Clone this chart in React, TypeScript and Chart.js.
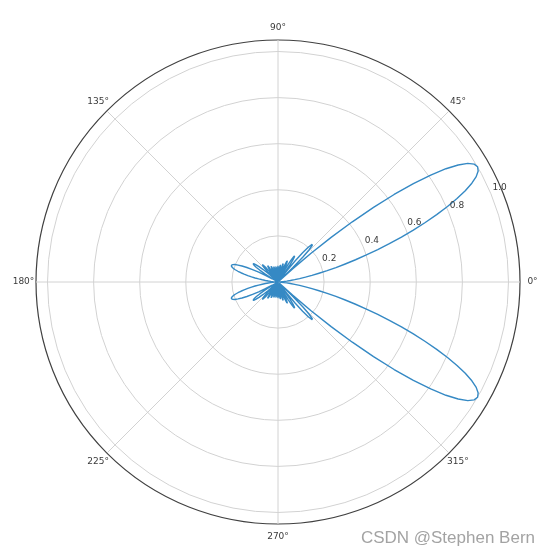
import React, { useEffect, useRef } from 'react';
import { Chart, registerables } from 'chart.js';

Chart.register(...registerables);

// Angular sampling of the pattern (degrees, counter-clockwise from east)
const THETA_STEP_DEG = 1;

// |array factor| read from the upper half of the polar plot, theta = 0°..180° (1° apart).
// The lower half of the plot is the mirror image of this half.
const GAIN_UPPER_HALF = [
  0.005, 0.004, 0.000, 0.006, 0.014, 0.025, 0.038, 0.054, 0.073, 0.095,
  0.121, 0.150, 0.182, 0.219, 0.259, 0.302, 0.350, 0.401, 0.455, 0.511,
  0.570, 0.629, 0.689, 0.748, 0.805, 0.857, 0.904, 0.944, 0.974, 0.993,
  1.000, 0.993, 0.971, 0.932, 0.879, 0.809, 0.726, 0.631, 0.526, 0.415,
  0.301, 0.190, 0.085, 0.010, 0.090, 0.153, 0.196, 0.218, 0.219, 0.200,
  0.166, 0.119, 0.065, 0.010, 0.042, 0.086, 0.117, 0.132, 0.132, 0.116,
  0.088, 0.051, 0.009, 0.031, 0.065, 0.089, 0.099, 0.096, 0.080, 0.053,
  0.020, 0.015, 0.046, 0.069, 0.081, 0.081, 0.068, 0.045, 0.016, 0.015,
  0.043, 0.063, 0.073, 0.070, 0.056, 0.034, 0.006, 0.022, 0.046, 0.063,
  0.068, 0.063, 0.047, 0.023, 0.004, 0.030, 0.051, 0.064, 0.066, 0.058,
  0.040, 0.015, 0.012, 0.037, 0.056, 0.067, 0.067, 0.057, 0.038, 0.014,
  0.013, 0.039, 0.059, 0.071, 0.073, 0.064, 0.047, 0.024, 0.004, 0.031,
  0.055, 0.073, 0.082, 0.081, 0.070, 0.051, 0.026, 0.003, 0.032, 0.058,
  0.080, 0.094, 0.100, 0.096, 0.083, 0.063, 0.037, 0.007, 0.025, 0.056,
  0.084, 0.106, 0.123, 0.132, 0.133, 0.127, 0.113, 0.093, 0.067, 0.037,
  0.005, 0.029, 0.062, 0.094, 0.123, 0.149, 0.171, 0.188, 0.202, 0.210,
  0.214, 0.214, 0.210, 0.203, 0.193, 0.180, 0.166, 0.151, 0.134, 0.117,
  0.101, 0.085, 0.069, 0.055, 0.042, 0.031, 0.022, 0.014, 0.009, 0.006,
  0.005,
];

const ANGLE_TICK_DEGREES = [0, 45, 90, 135, 180, 225, 270, 315];
const ANGLE_TICK_LABELS = ['0°', '45°', '90°', '135°', '180°', '225°', '270°', '315°'];
const RADIAL_TICKS = [0.2, 0.4, 0.6, 0.8, 1.0];
const RADIAL_TICK_LABELS = ['0.2', '0.4', '0.6', '0.8', '1.0'];
const R_MAX = 1.05;
const RADIAL_LABEL_ANGLE_DEG = 22.5;
const WATERMARK = 'CSDN @Stephen Bern';

// layout / style constants
const CANVAS_W = 556;
const CANVAS_H = 564;
const OUTER_RADIUS_PX = 242;
const SCALE_MAX = (R_MAX * (Math.min(CANVAS_W, CANVAS_H) / 2)) / OUTER_RADIUS_PX;
const LINE_COLOR = '#3589c4';
const GRID_COLOR = '#d2d2d2';
const SPINE_COLOR = '#404040';
const TEXT_COLOR = '#3a3a3a';
const FONT = '9px "DejaVu Sans", sans-serif';

// build the chart's series: Chart.js radar index j sits at -j degrees (clockwise) when startAngle = 90
const N_SAMPLES = 360 / THETA_STEP_DEG;
const gainAt = (thetaDeg: number) => {
  const t = ((thetaDeg % 360) + 360) % 360;
  const k = Math.round((t <= 180 ? t : 360 - t) / THETA_STEP_DEG);
  return GAIN_UPPER_HALF[k];
};
const chartThetas = Array.from({ length: N_SAMPLES }, (_, j) => (360 - j * THETA_STEP_DEG) % 360);
const chartLabels = chartThetas.map((t) => `${t}°`);
const chartData = chartThetas.map((t) => gainAt(t));
const indexForTheta = (deg: number) => ((((360 - deg) % 360) + 360) % 360) / THETA_STEP_DEG;

const polarDecor = {
  id: 'polarDecor',
  beforeDatasetsDraw(chart: any) {
    const s = chart.scales.r;
    const ctx = chart.ctx;
    ctx.save();
    ctx.strokeStyle = GRID_COLOR;
    ctx.lineWidth = 1;
    ANGLE_TICK_DEGREES.forEach((deg) => {
      const p = s.getPointPositionForValue(indexForTheta(deg), R_MAX);
      ctx.beginPath();
      ctx.moveTo(s.xCenter, s.yCenter);
      ctx.lineTo(p.x, p.y);
      ctx.stroke();
    });
    ctx.restore();
  },
  afterDatasetsDraw(chart: any) {
    const s = chart.scales.r;
    const ctx = chart.ctx;
    ctx.save();
    ctx.font = FONT;
    ctx.fillStyle = TEXT_COLOR;
    // radial tick labels
    ctx.textAlign = 'left';
    ctx.textBaseline = 'bottom';
    RADIAL_TICKS.forEach((v, i) => {
      const p = s.getPointPosition(indexForTheta(RADIAL_LABEL_ANGLE_DEG), s.getDistanceFromCenterForValue(v));
      ctx.fillText(RADIAL_TICK_LABELS[i], p.x + 1.5, p.y - 1.5);
    });
    // angular tick labels
    ctx.textAlign = 'center';
    ctx.textBaseline = 'middle';
    const outer = s.getDistanceFromCenterForValue(R_MAX);
    ANGLE_TICK_DEGREES.forEach((deg, i) => {
      const p = s.getPointPosition(indexForTheta(deg), outer + 12.5);
      ctx.fillText(ANGLE_TICK_LABELS[i], p.x, p.y);
    });
    // watermark
    ctx.font = '17px "Liberation Sans", Arial, sans-serif';
    ctx.fillStyle = '#a3a3a3';
    ctx.textAlign = 'right';
    ctx.textBaseline = 'alphabetic';
    ctx.fillText(WATERMARK, 535, 543);
    ctx.restore();
  },
};

export default function App() {
  const ref = useRef<HTMLCanvasElement | null>(null);
  useEffect(() => {
    if (!ref.current) return;
    const chart = new Chart(ref.current, {
      type: 'radar',
      data: {
        labels: chartLabels,
        datasets: [
          {
            data: chartData,
            borderColor: LINE_COLOR,
            borderWidth: 1.4,
            pointRadius: 0,
            pointHoverRadius: 0,
            fill: false,
            tension: 0,
          },
        ],
      },
      options: {
        responsive: false,
        animation: false,
        devicePixelRatio: 1,
        events: [],
        plugins: { legend: { display: false }, tooltip: { enabled: false }, title: { display: false } },
        elements: { line: { borderJoinStyle: 'round' } },
        scales: {
          r: {
            min: 0,
            max: SCALE_MAX,
            startAngle: 90,
            afterBuildTicks: (scale: any) => {
              scale.ticks = [0, ...RADIAL_TICKS, R_MAX].map((value) => ({ value }));
            },
            ticks: { display: false },
            pointLabels: { display: false },
            angleLines: { display: false },
            grid: {
              circular: true,
              color: (c: any) => (c.tick && c.tick.value >= R_MAX - 1e-9 ? SPINE_COLOR : GRID_COLOR),
              lineWidth: (c: any) => (c.tick && c.tick.value >= R_MAX - 1e-9 ? 1.2 : 1),
            },
          },
        },
      } as any,
      plugins: [polarDecor],
    });
    return () => chart.destroy();
  }, []);
  return (
    <div style={{ position: 'fixed', left: 0, top: 0, width: 550, height: 555, overflow: 'hidden', background: '#fff' }}>
      <canvas ref={ref} width={CANVAS_W} height={CANVAS_H} style={{ display: 'block' }} />
    </div>
  );
}
